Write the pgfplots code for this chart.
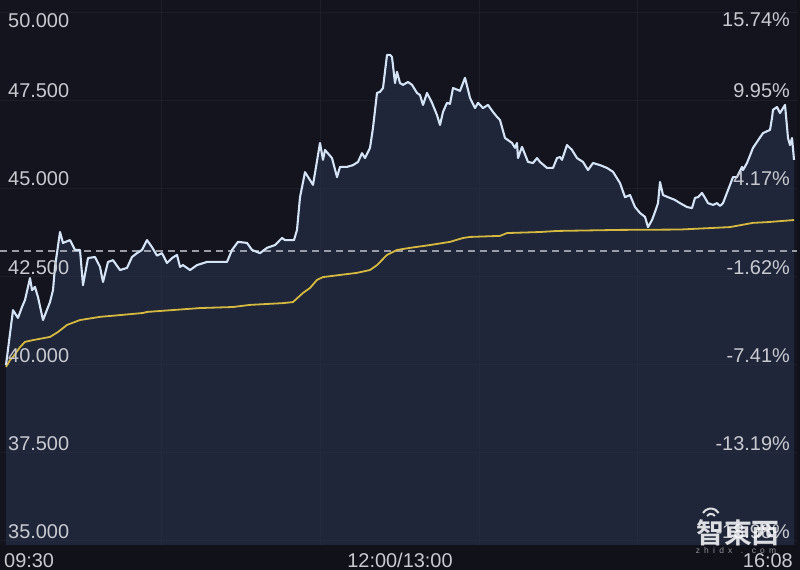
\documentclass[border=0pt]{standalone}
\usepackage{pgfplots}
\pgfplotsset{compat=1.18}
\usepackage{pgfplotstable}
\usepackage{fontspec}
\setmainfont{Liberation Sans}
\newfontfamily\cjk{Noto Sans CJK SC}[BoldFont={* Bold}]

\definecolor{bgtop}{HTML}{13141E}
\definecolor{bgbottom}{HTML}{101119}
\definecolor{areafill}{HTML}{2A3650}
\definecolor{priceline}{HTML}{D4E3F6}
\definecolor{avgline}{HTML}{D6B940}
\definecolor{lbl}{HTML}{C9CAD0}
\definecolor{prevclose}{HTML}{9A9DA6}

\tikzset{lab/.style={font=\fontsize{20}{24}\selectfont, text=lbl, inner sep=0pt}}

% last price (x = position along the session, p = price)
\pgfplotstableread{
x p
6 39.97
13 41.53
18 41.31
22 41.62
25 41.82
30 42.44
32 42.10
35 42.19
38 41.90
43 41.25
50 41.76
53 42.10
55 42.76
60 43.75
63 43.44
70 43.52
75 43.24
80 43.24
83 42.24
88 43.01
95 43.04
100 42.76
103 42.33
108 42.90
113 42.95
120 42.67
127 42.73
132 43.04
137 43.15
142 43.24
147 43.52
152 43.32
157 43.08
162 43.15
167 42.87
172 43.01
177 43.10
180 42.76
183 42.81
190 42.67
197 42.81
207 42.90
217 42.90
227 42.90
232 43.24
238 43.47
247 43.44
252 43.24
260 43.15
267 43.30
275 43.38
282 43.58
285 43.52
290 43.52
294 43.52
297 43.81
300 44.74
305 45.45
313 45.09
320 46.28
323 45.80
325 46.08
332 45.85
337 45.31
340 45.60
347 45.60
353 45.65
358 45.74
362 45.99
365 45.85
370 46.14
373 46.71
377 47.70
380 47.73
383 47.84
387 48.78
390 48.78
392 48.72
395 47.98
397 48.30
400 47.98
403 47.93
408 48.01
412 47.93
417 47.70
420 47.64
423 47.36
427 47.70
432 47.42
437 47.07
440 46.79
443 47.16
447 47.42
450 47.39
453 47.84
460 47.76
465 48.13
470 47.56
475 47.27
478 47.42
483 47.27
488 47.36
493 47.16
497 47.02
500 46.93
505 46.42
512 46.28
515 46.14
517 46.28
518 45.85
522 46.17
528 45.74
533 45.71
537 45.85
540 45.74
547 45.57
553 45.57
557 45.85
560 45.88
562 45.80
567 46.22
572 46.08
577 45.85
583 45.74
588 45.51
593 45.71
600 45.65
607 45.57
613 45.46
620 45.14
625 44.74
630 44.80
635 44.46
640 44.29
645 44.18
648 43.89
652 44.09
655 44.32
658 44.57
660 45.17
663 44.80
668 44.74
675 44.66
680 44.57
687 44.46
692 44.43
695 44.72
698 44.74
702 44.86
705 44.72
708 44.57
713 44.52
717 44.57
720 44.49
723 44.57
728 44.94
733 45.31
737 45.31
742 45.60
743 45.51
747 45.71
753 46.14
757 46.31
763 46.56
770 46.65
772 46.99
773 47.22
777 47.30
780 47.13
785 47.36
788 46.42
790 46.22
792 46.42
794 45.80
}\price

% average price
\pgfplotstableread{
x p
6 39.92
10 40.11
13 40.20
20 40.48
25 40.63
33 40.68
50 40.77
58 40.91
67 41.11
80 41.25
100 41.34
120 41.39
143 41.45
147 41.48
200 41.59
233 41.62
250 41.68
283 41.73
293 41.76
303 42.02
310 42.16
317 42.39
323 42.47
340 42.53
357 42.59
370 42.67
377 42.81
387 43.10
397 43.24
410 43.30
430 43.38
450 43.47
463 43.58
470 43.61
500 43.64
507 43.72
540 43.75
557 43.78
620 43.81
680 43.82
730 43.89
753 44.01
767 44.03
794 44.09
}\avgprice

\begin{document}
\begin{tikzpicture}
\fill[bgbottom] (0,0) rectangle (800bp,570bp);
\useasboundingbox (0,0) rectangle (800bp,570bp);
\begin{axis}[
    at={(0bp,25bp)}, anchor=south west,
    width=797bp, height=545bp, scale only axis,
    xmin=0, xmax=797, ymin=34.86, ymax=50.34,
    axis background/.style={fill=bgtop},
    axis line style={draw=none},
    xtick={161,320,479,637}, ytick={35,37.5,40,42.5,45,47.5,50},
    xticklabels={}, yticklabels={},
    major tick length=0pt,
    grid=major,
    major grid style={draw=white, draw opacity=0.045, line width=0.8bp},
    clip mode=individual,
]
\addplot[draw=none, fill=areafill, fill opacity=0.55] table[x=x, y=p] {\price} \closedcycle;
\addplot[prevclose, line width=1.8bp, dash pattern=on 7bp off 5bp] coordinates {(0,43.2) (797,43.2)};
\addplot[avgline, line width=1.8bp, line join=round] table[x=x, y=p] {\avgprice};
\addplot[priceline, line width=2.1bp, line join=round] table[x=x, y=p] {\price};

% price labels (left) and change labels (right)
\node[lab, anchor=north west, xshift=8bp, yshift=-1bp] at (axis cs:0,50) {50.000};
\node[lab, anchor=base west, xshift=8bp, yshift=2bp] at (axis cs:0,47.5) {47.500};
\node[lab, anchor=base west, xshift=8bp, yshift=2bp] at (axis cs:0,45) {45.000};
\node[lab, anchor=base west, xshift=8bp, yshift=2bp] at (axis cs:0,42.5) {42.500};
\node[lab, anchor=base west, xshift=8bp, yshift=2bp] at (axis cs:0,40) {40.000};
\node[lab, anchor=base west, xshift=8bp, yshift=2bp] at (axis cs:0,37.5) {37.500};
\node[lab, anchor=base west, xshift=8bp, yshift=2bp] at (axis cs:0,35) {35.000};
\node[lab, anchor=north east, xshift=-7bp, yshift=-1bp] at (axis cs:797,50) {15.74\%};
\node[lab, anchor=base east, xshift=-7bp, yshift=2bp] at (axis cs:797,47.5) {9.95\%};
\node[lab, anchor=base east, xshift=-7bp, yshift=2bp] at (axis cs:797,45) {4.17\%};
\node[lab, anchor=base east, xshift=-7bp, yshift=2bp] at (axis cs:797,42.5) {-1.62\%};
\node[lab, anchor=base east, xshift=-7bp, yshift=2bp] at (axis cs:797,40) {-7.41\%};
\node[lab, anchor=base east, xshift=-7bp, yshift=2bp] at (axis cs:797,37.5) {-13.19\%};
\node[lab, anchor=base east, xshift=-7bp, yshift=2bp] at (axis cs:797,35) {-18.98\%};

% time axis
\node[lab, anchor=base west, xshift=4bp, yshift=-22bp] at (axis cs:0,34.86) {09:30};
\node[lab, anchor=base, yshift=-22bp] at (axis cs:400,34.86) {12:00/13:00};
\node[lab, anchor=base east, xshift=-4bp, yshift=-22bp] at (axis cs:797,34.86) {16:08};
\end{axis}

% watermark
\node[inner sep=0pt, text=white, text opacity=0.85, font=\cjk\bfseries\fontsize{28}{30}\selectfont] at (738bp,37bp) {智東西};
\node[inner sep=0pt, text=white, text opacity=0.55, font=\fontsize{8.5}{9}\selectfont] at (736bp,20bp) {z\enspace h\enspace i\enspace d\enspace x\quad.\quad c\enspace o\enspace m};
\draw[white, opacity=0.85, line width=2bp] (703bp,57bp) arc[start angle=150, end angle=30, radius=9bp];
\draw[white, opacity=0.85, line width=2bp] (707bp,54bp) arc[start angle=150, end angle=30, radius=4.5bp];
\end{tikzpicture}
\end{document}
